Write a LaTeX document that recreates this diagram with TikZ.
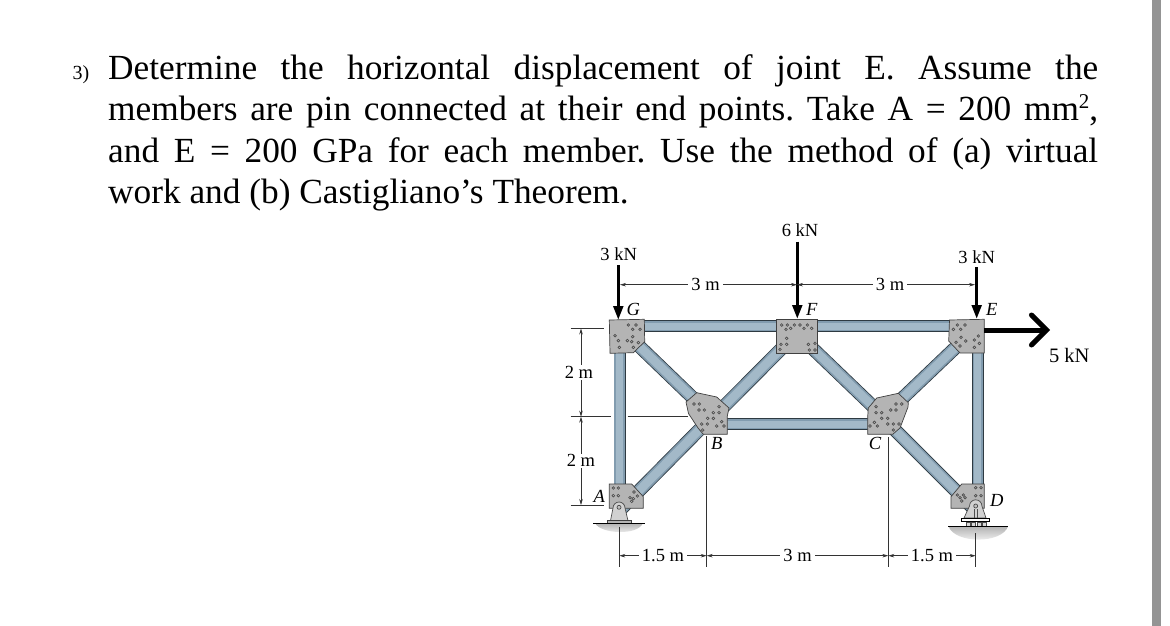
\documentclass[tikz,border=0pt]{standalone}
\usepackage{fontspec}
\setmainfont{Liberation Serif}
\usetikzlibrary{arrows.meta}
\definecolor{memberblue}{HTML}{A3B9C8}
\definecolor{membershade}{HTML}{829CAF}
\definecolor{memberedge}{HTML}{2E3A42}
\definecolor{plategray}{HTML}{B4B4B4}
\tikzset{
  outermember/.style={draw=memberedge,line width=#1},
  innermember/.style={draw=membershade,line width=#1},
  topmember/.style={draw=memberblue,line width=#1},
  plate/.style={draw=black!75,fill=plategray,line width=0.7pt},
  rivet/.style={draw=black!70,fill=black!25,line width=0.7pt},
  dimline/.style={draw=black!80,line width=0.6pt},
  dimarrow/.style={dimline,{Stealth[length=6pt,width=3.5pt]}-{Stealth[length=6pt,width=3.5pt]}},
  dimtext/.style={fill=white,font=\fontsize{18.5}{18.5}\selectfont,inner xsep=3pt,inner ysep=1pt},
  loadtext/.style={font=\fontsize{18.5}{18.5}\selectfont,inner sep=0pt},
  jointtext/.style={font=\fontsize{18.5}{18.5}\selectfont\itshape,inner sep=0pt},
  loadarrow/.style={line width=3.3pt,-{Triangle[length=14pt,width=9.5pt]}},
  pier/.style={draw=black!70,fill=black!18,line width=0.7pt}
}
\begin{document}
\begin{tikzpicture}[x=1pt,y=-1pt]
\useasboundingbox (0,0) rectangle (1170,626);
\fill[white] (0,0) rectangle (1170,626);
\fill[black!42] (1152,0) rectangle (1161,626);

\node[inner sep=0pt,font=\fontsize{20}{20}\selectfont] (number) at (81,75) {3)};
\node[anchor=north west,inner sep=0pt,text width=990pt,align=justify,font=\frenchspacing\fontsize{35.3}{41.3}\selectfont] (problem) at (108,54.5)
  {Determine the horizontal displacement of joint E. Assume the\linebreak
   members are pin connected at their end points. Take A = 200 mm{\raisebox{12pt}{\fontsize{21}{21}\selectfont 2}},\linebreak
   and E = 200 GPa for each member. Use the method of (a) virtual\linebreak
   work and (b) Castigliano’s Theorem.};

\coordinate (G) at (619.5,326);
\coordinate (F) at (797,326);
\coordinate (E) at (977.7,326);
\coordinate (A) at (619.5,495);
\coordinate (D) at (977.7,495);
\coordinate (B) at (715,424);
\coordinate (C) at (880,424);
\coordinate (Gd) at (625,332.5);
\coordinate (Bg) at (707,411.5);
\coordinate (Fb) at (797,333);
\coordinate (Bf) at (707,423.5);
\coordinate (Fc) at (797,333.5);
\coordinate (Cf) at (885,418);
\coordinate (Ec) at (975,329);
\coordinate (Ce) at (888,412);
\coordinate (Cd) at (885,420);
\coordinate (Dc) at (975,510);
\coordinate (Ab) at (620,510);
\coordinate (Ba) at (710,419);

\foreach \a/\b/\w in {G/E/12,G/A/12,E/D/12,B/C/12,Gd/Bg/13.5,Fb/Bf/13.5,Fc/Cf/13.5,Ec/Ce/13.5,Cd/Dc/13.5,Ab/Ba/13.5} {
  \draw[outermember=\w pt] (\a) -- (\b);
  \draw[innermember=\w pt-1.6pt] (\a) -- (\b);
  \draw[topmember=\w pt-5pt] (\a) -- (\b);
}

\draw[plate] (609.3,320) -- (644.3,319.3) -- (644.7,341.7) -- (633.3,352.7) -- (610,353.3) -- cycle;
\draw[plate] (776.5,319.5) -- (817.5,319.5) -- (817.5,353) -- (776.5,353) -- cycle;
\draw[plate] (949.5,320) -- (984.3,319.3) -- (984.3,353) -- (960,353) -- (948.7,341) -- cycle;
\draw[plate] (686,402) -- (696.7,392.7) -- (716.7,397) -- (729,408) -- (727.3,416) -- (727.3,434.3) -- (703.3,434.3) -- (698,428) -- (688.5,413.5) -- cycle;
\draw[plate] (868.3,408) -- (876.7,398) -- (898.3,393.3) -- (908.3,402.7) -- (908,407) -- (900,428) -- (892.7,434.3) -- (867.7,434.3) -- (867.7,416.7) -- cycle;
\draw[plate] (609.3,484) -- (631.7,484) -- (643.3,496.7) -- (643.3,508.3) -- (609.3,508.3) -- cycle;
\draw[plate] (951,496.7) -- (961.7,484) -- (984.3,484) -- (984.3,508.3) -- (951,508.3) -- cycle;

\begin{scope}[shift={(550,210)},scale=1/3]
\foreach \x/\y in {235/345,258/345,248/358,270/358,195/377,205/392,232/392,248/380,245/395,265/398,208/412,250/412,
                   695/345,712/345,722/355,733/345,750/345,762/355,772/345,785/355,708/358,710/385,710/403,693/403,775/403,795/400,795/420,690/418,778/420}
  \draw[rivet] (\x,\y) circle[radius=4];
\end{scope}
\begin{scope}[shift={(820,210)},scale=1/3]
\foreach \x/\y in {412/345,435/345,400/358,422/358,423/382,437/393,475/378,463/390,478/400,463/412,408/397,420/408}
  \draw[rivet] (\x,\y) circle[radius=4];
\end{scope}
\begin{scope}[shift={(550,400)},scale=1/3]
\foreach \x/\y in {190/264,205/264,190/287,205/287,252/276,262/288,240/293,250/296,245/304,
                   432/12,448/12,447/30,463/30,507/20,490/38,507/38,473/55,490/55,515/65,500/78,522/78,455/72,472/72,458/90}
  \draw[rivet] (\x,\y) circle[radius=4];
\end{scope}
\begin{scope}[shift={(820,400)},scale=1/3]
\foreach \x/\y in {467/263,483/263,467/287,483/287,412/285,430/285,420/293,435/293,425/303,
                   168/20,228/12,245/12,212/30,228/30,168/38,185/38,185/55,203/55,203/72,220/72,163/67,150/78,172/78,220/90,237/72}
  \draw[rivet] (\x,\y) circle[radius=4];
\end{scope}

\shade[top color=black!30,bottom color=white] (595,523) .. controls (600,534) and (638,536) .. (643,523) -- cycle;
\draw[pier] (610.5,520.7) -- (613,508) arc[start angle=180,end angle=360,radius=6] -- (628,520.7) -- cycle;
\draw[rivet] (619,507.3) circle[radius=2];
\draw[plate] (607,520.7) rectangle (631.7,523);
\draw[black,line width=0.7pt] (593.3,523) -- (645,523);

\shade[top color=black!30,bottom color=white] (948.5,526.3) .. controls (955,544) and (1002,544) .. (1008,526.3) -- cycle;
\draw[pier] (964,518) -- (969.5,506) arc[start angle=180,end angle=360,radius=6.2] -- (986,518) -- cycle;
\draw[rivet] (975.7,506) circle[radius=2];
\draw[black!70,line width=0.6pt] (974.5,509) -- (974.5,518) (977,509) -- (977,518);
\foreach \x in {966,971.5,977,982.5}
  \draw[black!70,fill=black!15,line width=0.6pt] (\x,522) rectangle ++(4,4);
\draw[draw=black,fill=white,line width=0.8pt] (961.7,518.3) rectangle (989.3,521.7);
\draw[black,line width=0.7pt] (948.3,526.3) -- (1008.3,526.3);

\coordinate (gtop) at (618.3,265);
\coordinate (gtip) at (618.3,320);
\coordinate (ftop) at (797.3,241.7);
\coordinate (ftip) at (797.3,319);
\coordinate (etop) at (976.7,267);
\coordinate (etip) at (976.7,319);
\coordinate (pullstart) at (984,330);
\coordinate (pullend) at (1050,330);
\draw[loadarrow] (gtop) -- (gtip);
\draw[loadarrow] (ftop) -- (ftip);
\draw[loadarrow] (etop) -- (etip);
\draw[line width=5pt,-{Straight Barb[length=15pt,width=30pt,line cap=round]}] (pullstart) -- (pullend);

\node[loadtext] (gload) at (618.7,254) {3 kN};
\node[loadtext] (fload) at (800,230) {6 kN};
\node[loadtext] (eload) at (976.7,256.7) {3 kN};
\node[loadtext,font=\fontsize{20.5}{20.5}\selectfont] (pull) at (1069.3,355) {5 kN};
\node[jointtext] (gname) at (633.3,309) {G};
\node[jointtext] (fname) at (811.7,309) {F};
\node[jointtext] (ename) at (991.7,309) {E};
\node[jointtext] (aname) at (599.3,496) {A};
\node[jointtext] (bname) at (716.7,443) {B};
\node[jointtext] (cname) at (875,443) {C};
\node[jointtext] (dname) at (996.7,500.7) {D};

\coordinate (topg) at (620,284.7);
\coordinate (topf) at (797,284.7);
\coordinate (tope) at (975,284.7);
\draw[dimarrow] (topg) -- node[dimtext,xshift=-3pt] (topleft) {3 m} (topf);
\draw[dimarrow] (topf) -- node[dimtext,xshift=4pt] (topright) {3 m} (tope);

\coordinate (hightop) at (570.7,328);
\coordinate (highend) at (604,328);
\coordinate (midtop) at (570.7,416.7);
\coordinate (midend) at (611,416.7);
\coordinate (midback) at (627.7,416.7);
\coordinate (midplate) at (688,416.7);
\coordinate (lowtop) at (570.7,505.3);
\coordinate (lowend) at (604,505.3);
\draw[dimline] (hightop) -- (highend);
\draw[dimline] (midtop) -- (midend);
\draw[dimline] (midback) -- (midplate);
\draw[dimline] (lowtop) -- (lowend);
\coordinate (leftup) at (581,328.5);
\coordinate (leftmid) at (581,416.7);
\coordinate (leftlow) at (581,505);
\draw[dimarrow] (leftup) -- node[dimtext,xshift=-2pt] (upperh) {2 m} (leftmid);
\draw[dimarrow] (leftmid) -- node[dimtext] (lowerh) {2 m} (leftlow);

\coordinate (atick) at (619.3,526.7);
\coordinate (btick) at (706.7,436);
\coordinate (ctick) at (888.3,437.3);
\coordinate (dtick) at (975.7,533.3);
\coordinate (aend) at (619.3,566.7);
\coordinate (bend) at (706.7,566.7);
\coordinate (cend) at (888.3,566.7);
\coordinate (dend) at (975.7,566.7);
\draw[dimline] (atick) -- (aend);
\draw[dimline] (btick) -- (bend);
\draw[dimline] (ctick) -- (cend);
\draw[dimline] (dtick) -- (dend);
\coordinate (adim) at (619.3,555.7);
\coordinate (bdim) at (706.7,555.7);
\coordinate (cdim) at (888.3,555.7);
\coordinate (ddim) at (975.7,555.7);
\draw[dimarrow] (adim) -- node[dimtext] (spana) {1.5 m} (bdim);
\draw[dimarrow] (bdim) -- node[dimtext] (spanb) {3 m} (cdim);
\draw[dimarrow] (cdim) -- node[dimtext] (spanc) {1.5 m} (ddim);
\end{tikzpicture}
\end{document}
